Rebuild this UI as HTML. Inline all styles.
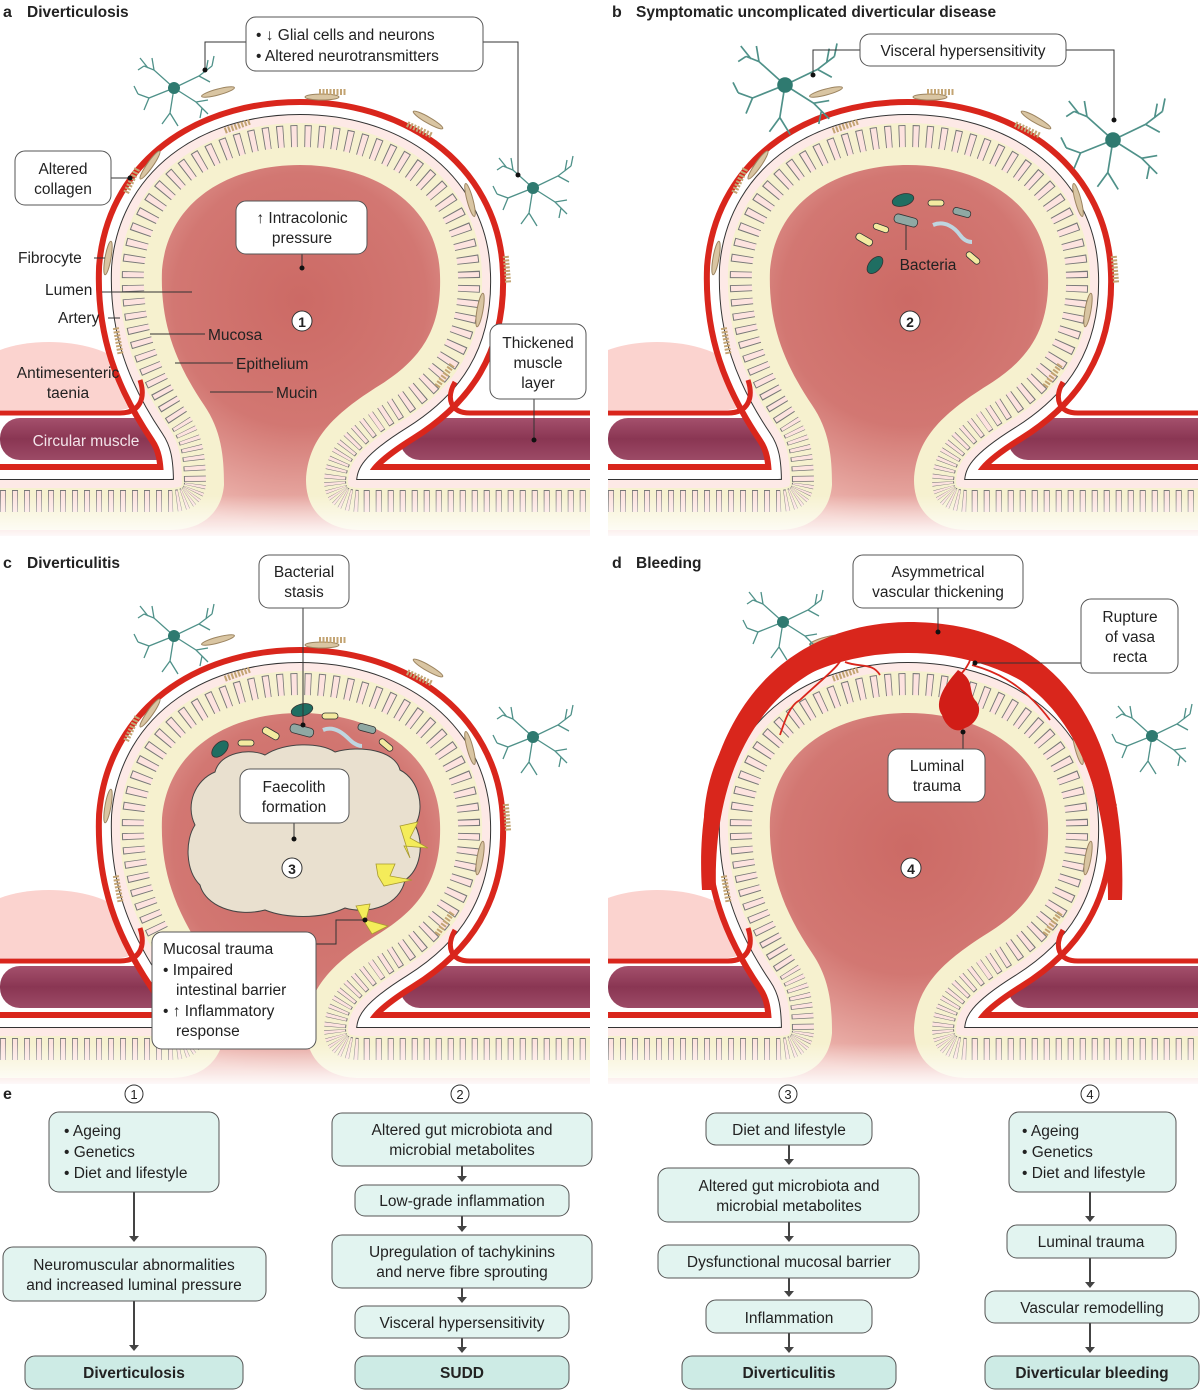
<!DOCTYPE html>
<html><head><meta charset="utf-8"><style>
html,body{margin:0;padding:0;background:#fff}
svg{display:block}
text{font-family:"Liberation Sans",sans-serif;fill:#222}
.t{font-size:15.5px}
.b{font-weight:bold}
.box{fill:#fff;stroke:#555;stroke-width:1}
.fb{fill:#e2f4f0;stroke:#555;stroke-width:1}
.ff{fill:#cdebe5;stroke:#555;stroke-width:1}
.ln{stroke:#333;stroke-width:1;fill:none}
.ar{stroke:#444;stroke-width:2;fill:none}
</style></head><body>
<svg width="1200" height="1390" viewBox="0 0 1200 1390" xmlns="http://www.w3.org/2000/svg">
<defs>
<radialGradient id="lum" cx="300" cy="300" r="230" gradientUnits="userSpaceOnUse">
<stop offset="0" stop-color="#cc6a65"/><stop offset="0.55" stop-color="#d27772"/><stop offset="1" stop-color="#efbab3"/>
</radialGradient>
<linearGradient id="mus" x1="0" y1="0" x2="0" y2="1">
<stop offset="0" stop-color="#a4506c"/><stop offset="0.5" stop-color="#8a3653"/><stop offset="1" stop-color="#9c4a66"/>
</linearGradient>
<linearGradient id="fade" x1="0" y1="0" x2="0" y2="1">
<stop offset="0" stop-color="#fff" stop-opacity="0"/><stop offset="1" stop-color="#fff" stop-opacity="1"/>
</linearGradient>
<clipPath id="pc"><rect x="0" y="86" width="590" height="450"/></clipPath>
<path id="L" d="M-60,530 H170 C205,530 222,510 224,485 C224,455 221,430 204,405 C175,362 160,322 162,270 C168,200 230,165 300,165 C375,165 438,205 440,275 C442,330 420,360 380,385 C332,415 308,440 306,480 C306,510 325,530 360,530 H660 V640 H-60 Z"/>
<g id="neuron" stroke="#4f9189" stroke-width="1.3" fill="none">
<path d="M0,0 L-20,-18 L-30,-22 M-20,-18 L-22,-30 M-26,-20 L-34,-30 M0,0 L25,-12 L38,-22 M25,-12 L36,-6 M32,-17 L34,-28 M0,0 L22,14 L34,26 M22,14 L34,12 M28,20 L26,30 M0,0 L-4,25 L-12,36 M-4,25 L4,38 M0,0 L-25,10 L-36,6 M-25,10 L-30,22 M-30,-22 L-36,-18 M38,-22 L40,-32 M-36,6 L-40,-2"/>
<circle r="6" fill="#2f7a70" stroke="none"/>
</g>
<g id="fib"><ellipse rx="17" ry="3" fill="#d9c5a2" stroke="#9c8460" stroke-width="1"/></g>
<g id="col"><path d="M-14,0 H14" stroke="#c3a473" stroke-width="6" stroke-dasharray="2 1.5"/></g>
<g id="base">
<g clip-path="url(#pc)">
<path d="M0,350 C40,335 110,340 135,375 C145,395 140,408 120,410 L0,410 Z" fill="#fbd3cf"/>
<rect x="0" y="418" width="200" height="42" rx="20" fill="url(#mus)"/>
<rect x="400" y="418" width="220" height="42" rx="20" fill="url(#mus)"/>
<use href="#L" fill="none" stroke="#d9261c" stroke-width="132"/>
<use href="#L" fill="none" stroke="#fff" stroke-width="120"/>
<use href="#L" fill="none" stroke="#333" stroke-width="102"/>
<use href="#L" fill="none" stroke="#fde9e6" stroke-width="100"/>
<use href="#L" fill="none" stroke="#f6f1cf" stroke-width="84"/>
<use href="#L" fill="none" stroke="#777" stroke-width="80" stroke-dasharray="6 6"/>
<use href="#L" fill="none" stroke="#fde3df" stroke-width="78" stroke-dasharray="4.5 7.5" stroke-dashoffset="-0.8"/>
<use href="#L" fill="none" stroke="#f6f1cf" stroke-width="36"/>
<use href="#L" fill="url(#lum)"/>
<path d="M0,413 H120 C140,413 146,398 140,380" fill="none" stroke="#d9261c" stroke-width="5"/>
<path d="M590,413 H470 C450,413 446,398 455,382" fill="none" stroke="#d9261c" stroke-width="5"/>
<rect x="0" y="495" width="590" height="45" fill="url(#fade)"/>
</g>
<use href="#fib" transform="translate(218,92) rotate(-15)"/>
<use href="#fib" transform="translate(322,97)"/>
<use href="#fib" transform="translate(428,120) rotate(30)"/>
<use href="#fib" transform="translate(150,165) rotate(-55)"/>
<use href="#fib" transform="translate(108,258) rotate(-80)"/>
<use href="#fib" transform="translate(470,200) rotate(75)"/>
<use href="#fib" transform="translate(480,310) rotate(100)"/>
<use href="#col" transform="translate(333,92)"/>
<use href="#col" transform="translate(238,126) rotate(-20)"/>
<use href="#col" transform="translate(420,130) rotate(25)"/>
<use href="#col" transform="translate(132,180) rotate(-65)"/>
<use href="#col" transform="translate(507,270) rotate(85)"/>
<use href="#col" transform="translate(118,340) rotate(-100)"/>
<use href="#col" transform="translate(445,375) rotate(-55)"/>
</g>
</defs>

<use href="#base"/>
<use href="#base" transform="translate(608,0)"/>
<use href="#base" transform="translate(0,548)"/>
<use href="#base" transform="translate(608,548)"/>

<use href="#neuron" transform="translate(174,88)"/>
<use href="#neuron" transform="translate(533,188)"/>
<use href="#neuron" transform="translate(785,85) scale(1.3)"/>
<use href="#neuron" transform="translate(1113,140) scale(1.3)"/>
<use href="#neuron" transform="translate(174,636)"/>
<use href="#neuron" transform="translate(533,737)"/>
<use href="#neuron" transform="translate(783,622)"/>
<use href="#neuron" transform="translate(1152,736)"/>

<!-- Panel a -->
<text x="3" y="17" class="b" font-size="16">a</text>
<text x="27" y="17" class="b" font-size="15.5">Diverticulosis</text>
<path class="ln" d="M246,42 H205 V70 M483,42 H518 V175"/>
<circle cx="205" cy="70" r="2.5" fill="#111"/><circle cx="518" cy="175" r="2.5" fill="#111"/>
<rect class="box" x="246" y="17" width="237" height="54" rx="10"/>
<text x="256" y="40" class="t">• ↓ Glial cells and neurons</text>
<text x="256" y="61" class="t">• Altered neurotransmitters</text>
<path class="ln" d="M111,178 H130"/><circle cx="130" cy="178" r="2.5" fill="#111"/>
<rect class="box" x="15" y="151" width="96" height="54" rx="10"/>
<text x="63" y="174" class="t" text-anchor="middle">Altered</text>
<text x="63" y="194" class="t" text-anchor="middle">collagen</text>
<path class="ln" d="M302,254 V268"/><circle cx="302" cy="268" r="2.5" fill="#111"/>
<rect class="box" x="236" y="201" width="131" height="53" rx="10"/>
<text x="302" y="223" class="t" text-anchor="middle">↑ Intracolonic</text>
<text x="302" y="243" class="t" text-anchor="middle">pressure</text>
<path class="ln" d="M534,399 V440"/><circle cx="534" cy="440" r="2.5" fill="#111"/>
<rect class="box" x="490" y="324" width="96" height="75" rx="10"/>
<text x="538" y="348" class="t" text-anchor="middle">Thickened</text>
<text x="538" y="368" class="t" text-anchor="middle">muscle</text>
<text x="538" y="388" class="t" text-anchor="middle">layer</text>
<text x="18" y="263" class="t">Fibrocyte</text><path class="ln" d="M94,258 H105"/>
<text x="45" y="295" class="t">Lumen</text><path class="ln" d="M102,292 H192"/>
<text x="58" y="323" class="t">Artery</text><path class="ln" d="M108,318 H120"/>
<text x="208" y="340" class="t">Mucosa</text><path class="ln" d="M205,334 H150"/>
<text x="236" y="369" class="t">Epithelium</text><path class="ln" d="M233,363 H175"/>
<text x="276" y="398" class="t">Mucin</text><path class="ln" d="M273,392 H210"/>
<text x="68" y="378" class="t" text-anchor="middle">Antimesenteric</text>
<text x="68" y="398" class="t" text-anchor="middle">taenia</text>
<text x="86" y="446" class="t" text-anchor="middle" style="fill:#f3e4ea">Circular muscle</text>
<circle cx="302" cy="321" r="10" fill="#fff" stroke="#333"/>
<text x="302" y="327" text-anchor="middle" class="b" font-size="14">1</text>

<!-- Panel b -->
<text x="612" y="17" class="b" font-size="16">b</text>
<text x="636" y="17" class="b" font-size="15.5">Symptomatic uncomplicated diverticular disease</text>
<path class="ln" d="M860,50 H813 V75 M1066,50 H1114 V120"/>
<circle cx="813" cy="75" r="2.5" fill="#111"/><circle cx="1114" cy="120" r="2.5" fill="#111"/>
<rect class="box" x="860" y="34" width="206" height="32" rx="10"/>
<text x="963" y="56" class="t" text-anchor="middle">Visceral hypersensitivity</text>
<g stroke="#333" stroke-width="0.8">
<ellipse cx="903" cy="200" rx="11" ry="6" fill="#1f6e62" transform="rotate(-15 903 200)"/>
<ellipse cx="875" cy="265" rx="10" ry="6" fill="#1f6e62" transform="rotate(-50 875 265)"/>
<rect x="894" y="216" width="24" height="9" rx="4" fill="#8fa8a3" transform="rotate(15 906 220)"/>
<rect x="953" y="209" width="18" height="7" rx="3" fill="#8fa8a3" transform="rotate(15 962 212)"/>
<rect x="928" y="200" width="16" height="6" rx="3" fill="#f3eaa0"/>
<rect x="855" y="236" width="18" height="7" rx="3" fill="#f3eaa0" transform="rotate(30 864 240)"/>
<rect x="873" y="225" width="16" height="6" rx="3" fill="#f3eaa0" transform="rotate(20 881 228)"/>
<rect x="965" y="255" width="16" height="6" rx="3" fill="#f3eaa0" transform="rotate(40 973 258)"/>
</g>
<path d="M933,225 C945,220 955,228 960,235 S970,242 972,242" stroke="#bfd6e0" stroke-width="4" fill="none"/>
<path class="ln" d="M906,225 V250"/>
<text x="928" y="270" class="t" text-anchor="middle" font-size="14.5">Bacteria</text>
<circle cx="910" cy="321" r="10" fill="#fff" stroke="#333"/>
<text x="910" y="327" text-anchor="middle" class="b" font-size="14">2</text>

<!-- Panel c -->
<text x="3" y="568" class="b" font-size="16">c</text>
<text x="27" y="568" class="b" font-size="15.5">Diverticulitis</text>
<path d="M215,772 C220,752 250,748 265,755 C285,742 320,742 335,752 C360,745 395,750 400,770 C420,780 425,810 415,825 C425,845 420,870 405,880 C400,905 370,915 345,908 C320,920 285,918 265,910 C235,918 205,905 200,885 C185,870 185,840 195,825 C185,805 195,780 215,772 Z" fill="#e9e0cf" stroke="#444" stroke-width="1"/>
<g fill="#f4ec5a" stroke="#a89a30" stroke-width="0.8">
<path d="M400,826 L418,822 L410,838 L428,848 L404,846 L410,858 Z"/>
<path d="M376,864 L395,864 L390,876 L412,880 L384,886 L378,876 Z"/>
<path d="M356,906 L370,904 L366,920 L388,926 L372,934 L362,918 Z"/>
</g>
<g stroke="#333" stroke-width="0.8">
<ellipse cx="302" cy="710" rx="11" ry="6" fill="#1f6e62" transform="rotate(-15 302 710)"/>
<ellipse cx="220" cy="749" rx="10" ry="6" fill="#1f6e62" transform="rotate(-45 220 749)"/>
<rect x="290" y="726" width="24" height="9" rx="4" fill="#8fa8a3" transform="rotate(15 302 730)"/>
<rect x="358" y="725" width="18" height="7" rx="3" fill="#8fa8a3" transform="rotate(15 367 728)"/>
<rect x="322" y="713" width="16" height="6" rx="3" fill="#f3eaa0"/>
<rect x="262" y="730" width="18" height="7" rx="3" fill="#f3eaa0" transform="rotate(30 271 733)"/>
<rect x="238" y="740" width="16" height="6" rx="3" fill="#f3eaa0"/>
<rect x="378" y="742" width="16" height="6" rx="3" fill="#f3eaa0" transform="rotate(40 386 745)"/>
</g>
<path d="M323,730 C335,725 345,735 350,740 S360,746 362,746" stroke="#bfd6e0" stroke-width="4" fill="none"/>
<path class="ln" d="M303,608 V725"/><circle cx="303" cy="725" r="2.5" fill="#111"/>
<rect class="box" x="259" y="555" width="90" height="53" rx="10"/>
<text x="304" y="577" class="t" text-anchor="middle">Bacterial</text>
<text x="304" y="597" class="t" text-anchor="middle">stasis</text>
<path class="ln" d="M294,823 V839"/><circle cx="294" cy="839" r="2.5" fill="#111"/>
<rect class="box" x="240" y="769" width="109" height="54" rx="10"/>
<text x="294" y="792" class="t" text-anchor="middle">Faecolith</text>
<text x="294" y="812" class="t" text-anchor="middle">formation</text>
<circle cx="292" cy="868" r="10" fill="#fff" stroke="#333"/>
<text x="292" y="874" text-anchor="middle" class="b" font-size="14">3</text>
<path class="ln" d="M316,944 H336 V920 H365"/><circle cx="365" cy="920" r="2.5" fill="#111"/>
<rect class="box" x="152" y="932" width="164" height="117" rx="10"/>
<text x="163" y="954" class="t">Mucosal trauma</text>
<text x="163" y="975" class="t">• Impaired</text>
<text x="176" y="995" class="t">intestinal barrier</text>
<text x="163" y="1016" class="t">• ↑ Inflammatory</text>
<text x="176" y="1036" class="t">response</text>

<!-- Panel d -->
<text x="612" y="568" class="b" font-size="16">d</text>
<text x="636" y="568" class="b" font-size="15.5">Bleeding</text>
<path d="M702,890 C692,740 765,624 908,622 C1060,622 1128,730 1122,900 L1108,900 C1108,752 1048,650 908,648 C775,650 712,755 716,890 Z" fill="#d9261c"/>
<path d="M845,650 C842,665 830,672 800,700 M845,662 C860,668 872,662 880,675 M972,650 C972,665 960,675 955,680 M972,665 C990,670 1020,680 1050,720 M800,700 C790,705 785,720 780,735" fill="none" stroke="#d9261c" stroke-width="1.8"/>
<path d="M958,670 C975,680 968,690 975,700 C985,710 975,725 965,728 C955,735 945,725 942,715 C935,705 940,690 958,670 Z" fill="#d11d17"/>
<path class="ln" d="M938,608 V632"/><circle cx="938" cy="632" r="2.5" fill="#111"/>
<rect class="box" x="853" y="555" width="170" height="53" rx="10"/>
<text x="938" y="577" class="t" text-anchor="middle">Asymmetrical</text>
<text x="938" y="597" class="t" text-anchor="middle">vascular thickening</text>
<path class="ln" d="M1081,663 H975"/><circle cx="975" cy="663" r="2.5" fill="#111"/>
<rect class="box" x="1081" y="599" width="97" height="74" rx="10"/>
<text x="1130" y="622" class="t" text-anchor="middle">Rupture</text>
<text x="1130" y="642" class="t" text-anchor="middle">of vasa</text>
<text x="1130" y="662" class="t" text-anchor="middle">recta</text>
<path class="ln" d="M963,749 V732"/><circle cx="963" cy="732" r="2.5" fill="#111"/>
<rect class="box" x="888" y="749" width="97" height="53" rx="10"/>
<text x="937" y="771" class="t" text-anchor="middle">Luminal</text>
<text x="937" y="791" class="t" text-anchor="middle">trauma</text>
<circle cx="911" cy="868" r="10" fill="#fff" stroke="#333"/>
<text x="911" y="874" text-anchor="middle" class="b" font-size="14">4</text>

<!-- Panel e -->
<text x="3" y="1099" class="b" font-size="16">e</text>
<g>
<circle cx="134" cy="1094" r="9" fill="#fff" stroke="#333"/><text x="134" y="1099" text-anchor="middle" font-size="13">1</text>
<circle cx="460" cy="1094" r="9" fill="#fff" stroke="#333"/><text x="460" y="1099" text-anchor="middle" font-size="13">2</text>
<circle cx="788" cy="1094" r="9" fill="#fff" stroke="#333"/><text x="788" y="1099" text-anchor="middle" font-size="13">3</text>
<circle cx="1090" cy="1094" r="9" fill="#fff" stroke="#333"/><text x="1090" y="1099" text-anchor="middle" font-size="13">4</text>
</g>
<g>
<path class="ar" d="M134,1192 V1238 M134,1301 V1347 M462,1166 V1178 M462,1216 V1228 M462,1288 V1299 M462,1338 V1349 M789,1145 V1161 M789,1222 V1238 M789,1278 V1293 M789,1333 V1349 M1090,1192 V1218 M1090,1258 V1284 M1090,1323 V1349"/>
<g fill="#444">
<path d="M129,1236 L139,1236 L134,1242 Z"/><path d="M129,1345 L139,1345 L134,1351 Z"/>
<path d="M457,1176 L467,1176 L462,1182 Z"/><path d="M457,1226 L467,1226 L462,1232 Z"/><path d="M457,1297 L467,1297 L462,1303 Z"/><path d="M457,1347 L467,1347 L462,1353 Z"/>
<path d="M784,1159 L794,1159 L789,1165 Z"/><path d="M784,1236 L794,1236 L789,1242 Z"/><path d="M784,1291 L794,1291 L789,1297 Z"/><path d="M784,1347 L794,1347 L789,1353 Z"/>
<path d="M1085,1216 L1095,1216 L1090,1222 Z"/><path d="M1085,1282 L1095,1282 L1090,1288 Z"/><path d="M1085,1347 L1095,1347 L1090,1353 Z"/>
</g>
<rect class="fb" x="49" y="1112" width="170" height="80" rx="10"/>
<text x="64" y="1136" class="t">• Ageing</text><text x="64" y="1157" class="t">• Genetics</text><text x="64" y="1178" class="t">• Diet and lifestyle</text>
<rect class="fb" x="3" y="1247" width="263" height="54" rx="10"/>
<text x="134" y="1270" class="t" text-anchor="middle">Neuromuscular abnormalities</text>
<text x="134" y="1290" class="t" text-anchor="middle">and increased luminal pressure</text>
<rect class="ff" x="25" y="1356" width="218" height="33" rx="10"/>
<text x="134" y="1378" class="t b" text-anchor="middle">Diverticulosis</text>

<rect class="fb" x="332" y="1113" width="260" height="53" rx="10"/>
<text x="462" y="1135" class="t" text-anchor="middle">Altered gut microbiota and</text>
<text x="462" y="1155" class="t" text-anchor="middle">microbial metabolites</text>
<rect class="fb" x="355" y="1185" width="214" height="31" rx="10"/>
<text x="462" y="1206" class="t" text-anchor="middle">Low-grade inflammation</text>
<rect class="fb" x="332" y="1235" width="260" height="53" rx="10"/>
<text x="462" y="1257" class="t" text-anchor="middle">Upregulation of tachykinins</text>
<text x="462" y="1277" class="t" text-anchor="middle">and nerve fibre sprouting</text>
<rect class="fb" x="355" y="1306" width="214" height="32" rx="10"/>
<text x="462" y="1328" class="t" text-anchor="middle">Visceral hypersensitivity</text>
<rect class="ff" x="355" y="1356" width="214" height="33" rx="10"/>
<text x="462" y="1378" class="t b" text-anchor="middle">SUDD</text>

<rect class="fb" x="706" y="1113" width="166" height="32" rx="10"/>
<text x="789" y="1135" class="t" text-anchor="middle">Diet and lifestyle</text>
<rect class="fb" x="658" y="1168" width="261" height="54" rx="10"/>
<text x="789" y="1191" class="t" text-anchor="middle">Altered gut microbiota and</text>
<text x="789" y="1211" class="t" text-anchor="middle">microbial metabolites</text>
<rect class="fb" x="658" y="1245" width="261" height="33" rx="10"/>
<text x="789" y="1267" class="t" text-anchor="middle">Dysfunctional mucosal barrier</text>
<rect class="fb" x="706" y="1300" width="166" height="33" rx="10"/>
<text x="789" y="1323" class="t" text-anchor="middle">Inflammation</text>
<rect class="ff" x="682" y="1356" width="214" height="33" rx="10"/>
<text x="789" y="1378" class="t b" text-anchor="middle">Diverticulitis</text>

<rect class="fb" x="1009" y="1112" width="167" height="80" rx="10"/>
<text x="1022" y="1136" class="t">• Ageing</text><text x="1022" y="1157" class="t">• Genetics</text><text x="1022" y="1178" class="t">• Diet and lifestyle</text>
<rect class="fb" x="1007" y="1225" width="169" height="33" rx="10"/>
<text x="1091" y="1247" class="t" text-anchor="middle">Luminal trauma</text>
<rect class="fb" x="985" y="1291" width="214" height="32" rx="10"/>
<text x="1092" y="1313" class="t" text-anchor="middle">Vascular remodelling</text>
<rect class="ff" x="985" y="1356" width="214" height="33" rx="10"/>
<text x="1092" y="1378" class="t b" text-anchor="middle">Diverticular bleeding</text>
</g>
</svg>
</body></html>
